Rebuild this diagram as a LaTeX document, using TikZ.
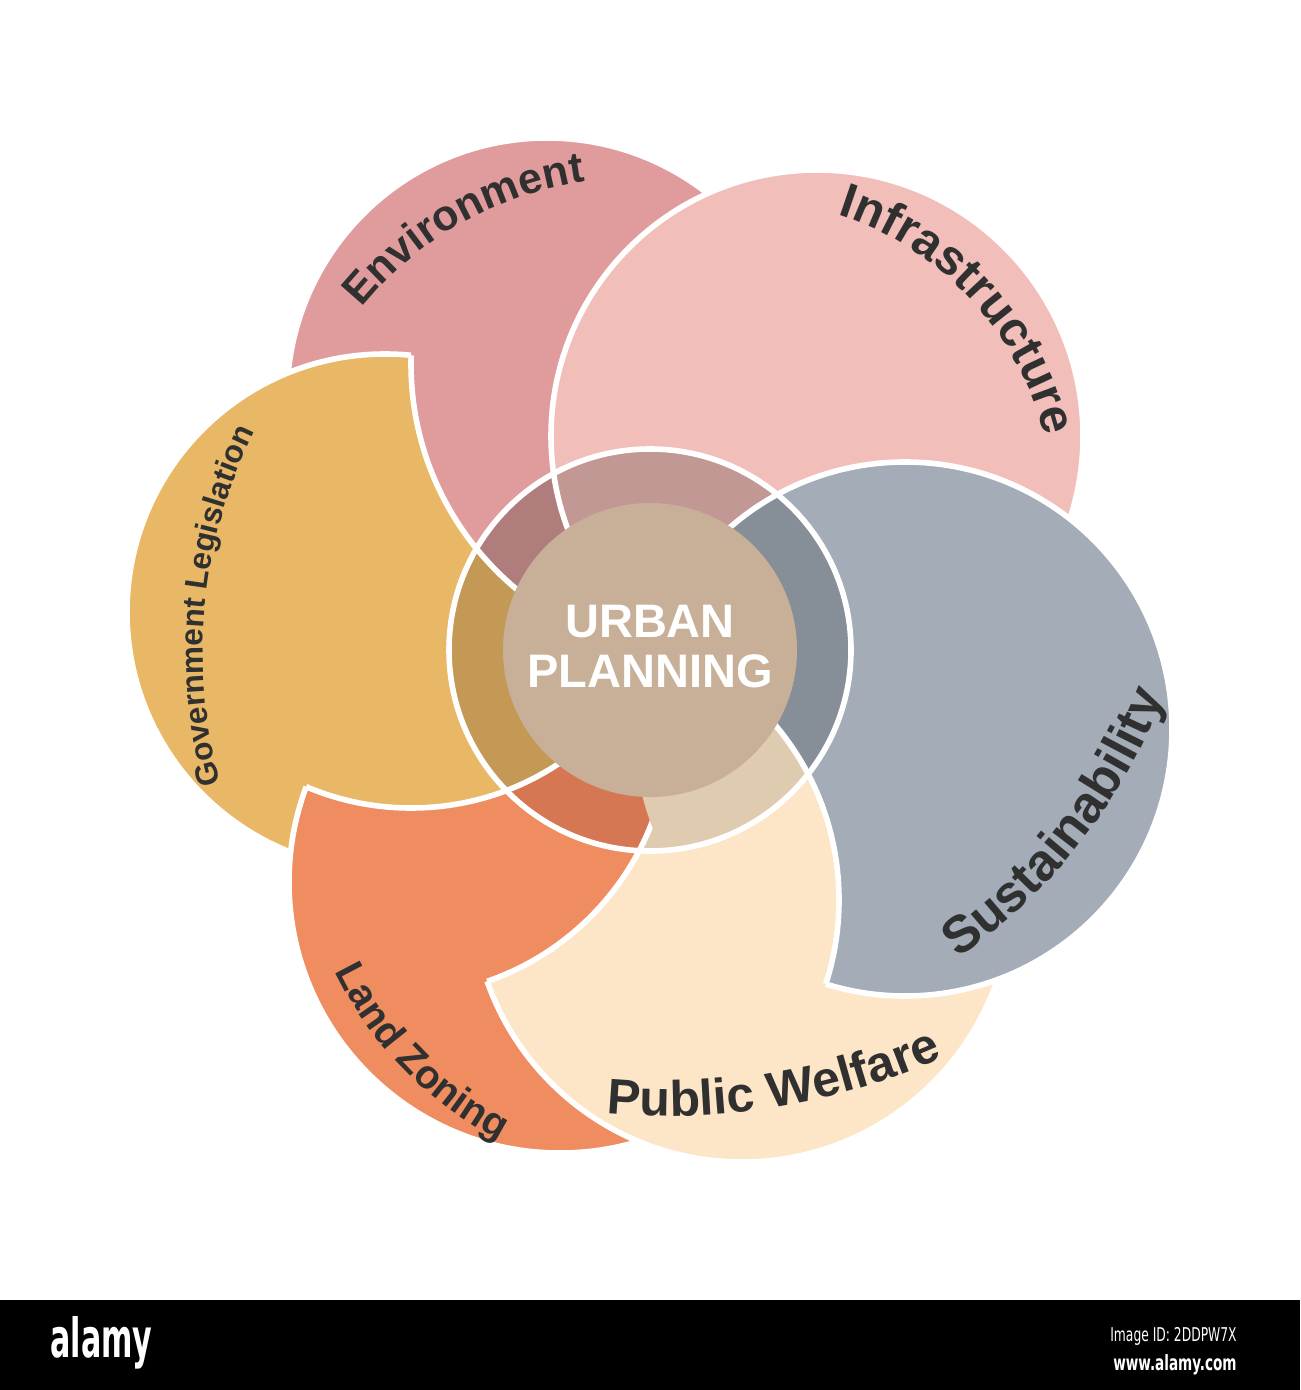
\documentclass[tikz,border=0pt]{standalone}
\usepackage{graphicx}
\usepackage{fontspec}
\setmainfont{Liberation Sans}
\newfontfamily\condfont{DejaVu Sans Condensed}
\usetikzlibrary{decorations.text}

\definecolor{colE}{HTML}{E09C9C}
\definecolor{colI}{HTML}{F2BEB9}
\definecolor{colS}{HTML}{A3ACB7}
\definecolor{colW}{HTML}{FDE6C7}
\definecolor{colL}{HTML}{EF8C60}
\definecolor{colG}{HTML}{E9B866}
\definecolor{dkE}{HTML}{AF7D7B}
\definecolor{dkI}{HTML}{C19894}
\definecolor{dkS}{HTML}{868E98}
\definecolor{dkW}{HTML}{DFCCB0}
\definecolor{dkL}{HTML}{D57752}
\definecolor{dkG}{HTML}{C39955}
\definecolor{colC}{HTML}{C7AF98}
\definecolor{txt}{HTML}{303030}

\tikzset{wline/.style={draw=white,line width=2.8pt}}

\def\radE{260}\def\radI{266}\def\radS{267}\def\radSp{271}\def\radW{270}\def\radL{271}\def\radG{258}
\def\radnG{293}\def\radnL{268}\def\radnW{271}\def\radnS{272}

% clip to the outside of a circle (nonzero rule, opposite orientation)
\newcommand\outclip[2]{\clip (-60,-60) -- (-60,1460) -- (1360,1460) -- (1360,-60) -- cycle ([shift={(#2,0)}]#1) arc[start angle=0,end angle=360,radius=#2];}

% colours: E I S W L G
\newcommand\petallayers[6]{%
  \fill[#1] (cE) circle[radius=\radE];
  \draw[wline] (cE) circle[radius=\radE];
  \fill[#2] (cI) circle[radius=\radI];
  \draw[wline] (cI) circle[radius=\radI];
  % Government Legislation, notched
  \begin{scope}
    \outclip{nG}{\radnG}
    \fill[#6] (cG) circle[radius=\radG];
    \draw[wline] (cG) circle[radius=\radG];
  \end{scope}
  \begin{scope}
    \clip (cG) circle[radius=\radG];
    \draw[wline] (nG) circle[radius=\radnG];
  \end{scope}
  % Land Zoning, notched
  \begin{scope}
    \outclip{nL}{\radnL}
    \fill[#5] (cL) circle[radius=\radL];
    \draw[wline] (cL) circle[radius=\radL];
  \end{scope}
  \begin{scope}
    \clip (cL) circle[radius=\radL];
    \draw[wline] (nL) circle[radius=\radnL];
  \end{scope}
  % Public Welfare, notched
  \begin{scope}
    \outclip{nW}{\radnW}
    \fill[#4] (cW) circle[radius=\radW];
    \draw[wline] (cW) circle[radius=\radW];
  \end{scope}
  \begin{scope}
    \clip (cW) circle[radius=\radW];
    \draw[wline] (nW) circle[radius=\radnW];
  \end{scope}
  % Sustainability
  \fill[#3] (cS) circle[radius=\radS];
  \draw[wline] (cS) circle[radius=\radS];
  % Public Welfare showing through the notch of Sustainability
  \begin{scope}
    \clip (cS) circle[radius=\radSp];
    \clip (nS) circle[radius=\radnS];
    \fill[#4] (cW) circle[radius=\radW];
  \end{scope}
  \begin{scope}
    \clip (cS) circle[radius=\radS];
    \clip (cW) circle[radius=\radW];
    \draw[wline] (nS) circle[radius=\radnS];
  \end{scope}
}

\newcommand\fEnv{\fontsize{21.5}{25}\selectfont\bfseries}
\newcommand\fInf{\fontsize{24.4}{28}\selectfont\bfseries}
\newcommand\fSus{\fontsize{26}{30}\selectfont\bfseries}
\newcommand\fPub{\fontsize{25}{29}\selectfont\bfseries}
\newcommand\fLan{\fontsize{20}{24}\selectfont\bfseries}
\newcommand\fGov{\fontsize{15.8}{18}\selectfont\bfseries}

\begin{document}
\begin{tikzpicture}[x=0.5pt,y=-0.5pt]
\useasboundingbox (0,0) rectangle (1300,1390);
\fill[white] (0,0) rectangle (1300,1390);

\coordinate (c0) at (650,650);
\coordinate (cE) at (547,398);
\coordinate (cI) at (817,436);
\coordinate (cS) at (905,729);
\coordinate (cW) at (742,892);
\coordinate (cL) at (560,882);
\coordinate (cG) at (385,612);
\coordinate (nG) at (704,364);
\coordinate (nL) at (411,540);
\coordinate (nW) at (399,725);
\coordinate (nS) at (567,900);

\petallayers{colE}{colI}{colS}{colW}{colL}{colG}

\begin{scope}
  \clip (c0) circle[radius=201];
  \petallayers{dkE}{dkI}{dkS}{dkW}{dkL}{dkG}
\end{scope}
\draw[wline] (c0) circle[radius=201];
\fill[colC] (c0) circle[radius=147];

\node[text=white, align=center, font=\fontsize{23.5}{25}\selectfont\bfseries, inner sep=0] (title) at (650,647) {URBAN\\PLANNING};

% curved labels
\coordinate (tEnv) at (633,527);
\coordinate (tInf) at (744,509);
\coordinate (tSus) at (622,484);
\coordinate (tPub) at (669,447);
\coordinate (tLan) at (672,808);
\coordinate (tGov) at (700,652);

\path[decorate,decoration={text along path,text align=center,text color=txt,text={|\fEnv|Environment}}]
  ([shift={(200.5:348.5)}]tEnv) arc[start angle=200.5,end angle=280.5,radius=348.5];
\path[decorate,decoration={text along path,text align=center,text color=txt,text={|\fInf|Infrastructure}}]
  ([shift={(272:309)}]tInf) arc[start angle=272,end angle=362,radius=309];
\path[decorate,decoration={text along path,text align=center,text color=txt,text={|\fSus|Sustainability}}]
  ([shift={(63:582)}]tSus) arc[start angle=63,end angle=13,radius=582];
\path[decorate,decoration={text along path,text align=center,text color=txt,text={|\fPub|Public Welfare}}]
  ([shift={(102.6:669)}]tPub) arc[start angle=102.6,end angle=58.6,radius=669];
\path[decorate,decoration={text along path,text align=center,text color=txt,text={|\fLan|Land Zoning}}]
  ([shift={(165.8:374.5)}]tLan) arc[start angle=165.8,end angle=105.8,radius=374.5];
\path[decorate,decoration={text along path,text align=center,text color=txt,text={|\fGov|Government Legislation}}]
  ([shift={(149.5:497)}]tGov) arc[start angle=149.5,end angle=221.5,radius=497];

% stock-photo bar
\fill[black] (0,1300) rectangle (1300,1390);
\node[anchor=west, text=white, inner sep=0] (wmlogo) at (50,1343) {\scalebox{0.62}[1]{\condfont\bfseries\fontsize{27}{27}\selectfont alamy}};
\node[anchor=east, text=white, inner sep=0] (wmid) at (1237,1336) {\scalebox{0.72}[1]{\condfont\fontsize{9.5}{10}\selectfont Image ID: 2DDPW7X}};
\node[anchor=east, text=white, inner sep=0] (wmurl) at (1237,1365) {\scalebox{0.72}[1]{\condfont\bfseries\fontsize{10.5}{11}\selectfont www.alamy.com}};
\end{tikzpicture}
\end{document}
